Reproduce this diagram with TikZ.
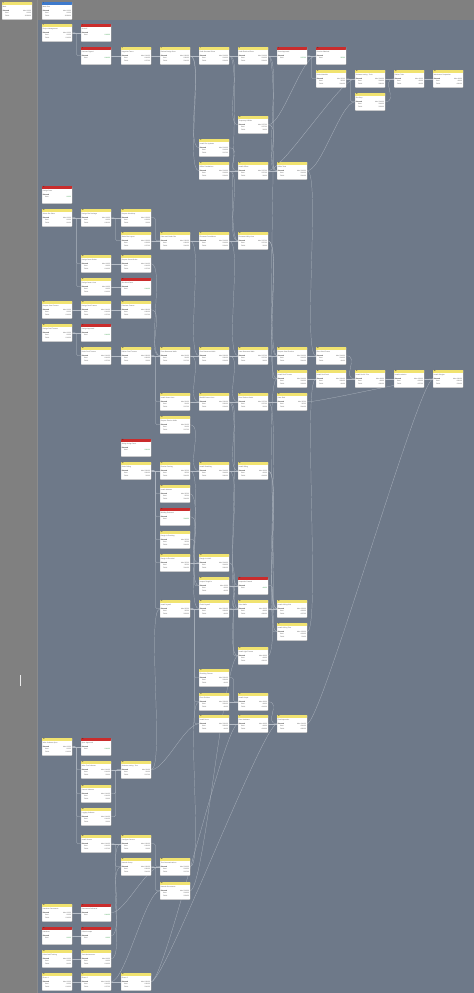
\documentclass[tikz,border=0pt]{standalone}
\usepackage{fontspec}
\setmainfont{Liberation Sans}
\usepackage{tikz}
\usetikzlibrary{shadows}
\definecolor{panelgray}{RGB}{128,128,128}
\definecolor{canvasblue}{RGB}{110,121,137}
\definecolor{linkgray}{RGB}{182,189,199}
\definecolor{headyellow}{RGB}{241,227,112}
\definecolor{headred}{RGB}{202,44,44}
\definecolor{headblue}{RGB}{62,122,204}
\definecolor{dategreen}{RGB}{40,150,60}
\pgfdeclarelayer{bottom}
\pgfdeclarelayer{links}
\pgfsetlayers{bottom,links,main}

\tikzset{
  cardbox/.style={anchor=north west, draw=black!40, line width=0.2pt, fill=white,
    minimum width=30mm, minimum height=17.5mm, inner sep=0pt, rounded corners=0.5mm,
    drop shadow={shadow xshift=0.5mm, shadow yshift=-0.6mm, opacity=0.45}},
  cardtxt/.style={anchor=west, inner sep=0pt, text=black!65, font=\fontsize{4.6}{5}\selectfont},
  cardbold/.style={cardtxt, text=black!85, font=\fontsize{4.6}{5}\selectfont\bfseries},
  cardid/.style={cardtxt, text=black!80, font=\fontsize{4.4}{5}\selectfont\bfseries},
  carddate/.style={anchor=east, inner sep=0pt, text=black!65, font=\fontsize{4.6}{5}\selectfont},
  link/.style={draw=linkgray, line width=0.6pt, rounded corners=1.5mm}
}

% card with a coloured head: name, x, y, colour, id, title
\newcommand{\cardhead}[6]{%
  \node[cardbox] (#1) at (#2,#3) {};
  \fill[#4] ([yshift=-2.8mm]#1.north west) [rounded corners=0.5mm] |- (#1.north east)
    -- ([yshift=-2.8mm]#1.north east) [sharp corners] -- cycle;
  \node[cardid] at ([shift={(0.8,1.45)}]#1.north west) {#5};
  \node[cardtxt] at ([shift={(0.8,5)}]#1.north west) {#6};
}
% task: name, x, y, id, title, start, finish
\newcommand{\taskcard}[7]{%
  \cardhead{#1}{#2}{#3}{headyellow}{#4}{#5}
  \node[cardbold] at ([shift={(0.8,8.7)}]#1.north west) {Planned};
  \node[carddate] at ([shift={(29.2,8.7)}]#1.north west) {Mon #6};
  \node[cardtxt] at ([shift={(3,11.4)}]#1.north west) {Start};
  \node[carddate] at ([shift={(29.2,11.4)}]#1.north west) {#6};
  \node[cardtxt] at ([shift={(3,14.1)}]#1.north west) {Finish};
  \node[carddate] at ([shift={(29.2,14.1)}]#1.north west) {#7};
}
% milestone: name, x, y, id, title, date
\newcommand{\milecard}[6]{%
  \cardhead{#1}{#2}{#3}{headred}{#4}{#5}
  \node[cardbold] at ([shift={(0.8,8.7)}]#1.north west) {Planned};
  \node[cardtxt] at ([shift={(3,11.4)}]#1.north west) {Start};
  \node[carddate, text=dategreen] at ([shift={(29.2,11.4)}]#1.north west) {#6};
}
\newcommand{\hlink}[2]{\draw[link] (#1.east) -- (#2.west);}
\newcommand{\blink}[2]{\draw[link] (#1.east) -- ++(4.5,0) |- (#2.west);}
\newcommand{\clink}[2]{\draw[link] (#1.east) .. controls +(14,0) and +(-14,0) .. (#2.west);}

\begin{document}
\begin{tikzpicture}[x=1mm,y=-1mm]
\useasboundingbox (0,0) rectangle (474,993);
\begin{pgfonlayer}{bottom}
\fill[panelgray] (0,0) rectangle (474,993);
\fill[canvasblue] (37,20) rectangle (474,993);
\draw[black!45, line width=0.6pt] (37,0) -- (37,993);
\draw[white!85!gray, line width=1.2pt] (20,675) -- (20,686);
\end{pgfonlayer}

% summary cards
\taskcard{t0}{2}{2}{0}{Main}{1/2/12}{12/28/12}
\cardhead{t1}{42}{2}{headblue}{1}{Main Plan}
\node[cardbold] at ([shift={(0.8,8.7)}]t1.north west) {Planned};
\node[carddate] at ([shift={(29.2,8.7)}]t1.north west) {Mon 1/2/12};
\node[cardtxt] at ([shift={(3,11.4)}]t1.north west) {Start};
\node[carddate] at ([shift={(29.2,11.4)}]t1.north west) {1/2/12};
\node[cardtxt] at ([shift={(3,14.1)}]t1.north west) {Finish};
\node[carddate] at ([shift={(29.2,14.1)}]t1.north west) {12/28/12};

% design and permits
\taskcard{t2}{42}{24}{2}{Project Management}{1/2/12}{1/13/12}
\milecard{t3}{81}{24}{3}{Kick-off}{1/13/12}
\milecard{t4}{81}{47}{4}{Contract Signed}{1/16/12}
\taskcard{t5}{121}{47}{5}{Negotiate Terms}{1/16/12}{1/27/12}
\taskcard{t6}{160}{47}{6}{Review Design Docs}{1/30/12}{2/10/12}
\taskcard{t7}{199}{47}{7}{Draft Structural Plans}{2/13/12}{2/24/12}
\taskcard{t8}{238}{47}{8}{Draft Electrical Plans}{2/13/12}{2/24/12}
\milecard{t9}{277}{47}{9}{Plans Approved}{2/27/12}
\milecard{t10}{316}{47}{10}{Permits Obtained}{3/5/12}
\taskcard{t11}{316}{70}{11}{Order Materials}{3/5/12}{3/16/12}
\taskcard{t12}{355}{70}{12}{Software testing - Tools}{3/19/12}{3/30/12}
\taskcard{t13}{394}{70}{13}{Deliver Tools}{4/2/12}{4/6/12}
\taskcard{t14}{433}{70}{14}{Warehouse Preparation}{4/9/12}{4/20/12}
\taskcard{t15}{355}{93}{15}{Site Prep}{3/19/12}{3/23/12}
\taskcard{t16}{238}{116}{16}{Temporary Utilities}{2/27/12}{3/9/12}
\taskcard{t17}{199}{139}{17}{Install Fire Hydrants}{2/13/12}{2/17/12}
\taskcard{t18}{199}{162}{18}{Office Foundations}{2/13/12}{2/24/12}
\taskcard{t19}{238}{162}{19}{Install Offices}{2/27/12}{3/9/12}
\taskcard{t20}{277}{162}{20}{Office Tests}{3/12/12}{3/16/12}

% site work
\milecard{t21}{42}{186}{21}{Design Done}{1/2/12}
\taskcard{t22}{42}{209}{22}{Select Site Plans}{1/2/12}{1/6/12}
\taskcard{t23}{81}{209}{23}{Design Site Drainage}{1/9/12}{1/20/12}
\taskcard{t24}{121}{209}{24}{Prepare Workshop}{1/23/12}{2/3/12}
\taskcard{t25}{121}{232}{25}{Stake Site Layout}{1/23/12}{1/27/12}
\taskcard{t26}{160}{232}{26}{Clear and Grade Site}{1/30/12}{2/10/12}
\taskcard{t27}{199}{232}{27}{Excavate Foundations}{2/13/12}{2/24/12}
\taskcard{t28}{238}{232}{28}{Excavate Utility Lines}{2/27/12}{3/2/12}
\taskcard{t29}{81}{255}{29}{Design Storm Drains}{1/9/12}{1/13/12}
\taskcard{t30}{121}{255}{30}{Prepare Storm Drains}{1/16/12}{1/27/12}
\taskcard{t31}{81}{278}{31}{Design Sewer Lines}{1/9/12}{1/13/12}
\milecard{t32}{121}{278}{32}{Site Work Done}{1/16/12}
\taskcard{t33}{42}{301}{33}{Prepare Steel Frames}{1/2/12}{1/13/12}
\taskcard{t34}{81}{301}{34}{Design Steel Frames}{1/16/12}{1/27/12}
\taskcard{t35}{121}{301}{35}{Fabricate Frames}{1/30/12}{2/17/12}
\taskcard{t36}{42}{324}{36}{Design Roof Trusses}{1/2/12}{1/13/12}
\milecard{t37}{81}{324}{37}{Design Approved}{1/16/12}

% structure
\taskcard{t38}{81}{347}{38}{Order Roof Trusses}{1/16/12}{1/27/12}
\taskcard{t39}{121}{347}{39}{Deliver Roof Trusses}{1/30/12}{2/3/12}
\taskcard{t40}{160}{347}{40}{Form Basement Walls}{2/6/12}{2/17/12}
\taskcard{t41}{199}{347}{41}{Pour Basement Walls}{2/20/12}{2/24/12}
\taskcard{t42}{238}{347}{42}{Cure Basement Walls}{2/27/12}{3/9/12}
\taskcard{t43}{277}{347}{43}{Prepare Steel Erection}{3/12/12}{3/16/12}
\taskcard{t44}{316}{347}{44}{Erect Steel Frame}{3/19/12}{4/6/12}
\taskcard{t45}{277}{370}{45}{Install Roof Trusses}{3/12/12}{3/23/12}
\taskcard{t46}{316}{370}{46}{Install Roof Deck}{3/26/12}{4/6/12}
\taskcard{t47}{355}{370}{47}{Install Roof \& Trim}{4/9/12}{4/20/12}
\taskcard{t48}{394}{370}{48}{Install Insulation}{4/23/12}{4/27/12}
\taskcard{t49}{433}{370}{49}{Install Shingles}{4/30/12}{5/11/12}
\taskcard{t50}{160}{393}{50}{Install Sewer Lines}{2/6/12}{2/17/12}
\taskcard{t51}{199}{393}{51}{Backfill Sewer Lines}{2/20/12}{2/24/12}
\taskcard{t52}{238}{393}{52}{Pour Slab on Grade}{2/27/12}{3/2/12}
\taskcard{t53}{277}{393}{53}{Cure Slab}{3/5/12}{3/16/12}
\taskcard{t54}{160}{416}{54}{Prepare Exterior Walls}{2/6/12}{2/17/12}

% enclosure and interiors
\milecard{t55}{121}{439}{55}{Siding Design Done}{2/20/12}
\taskcard{t56}{121}{462}{56}{Order Siding}{2/20/12}{3/2/12}
\taskcard{t57}{160}{462}{57}{Exterior Framing}{3/5/12}{3/16/12}
\taskcard{t58}{199}{462}{58}{Install Sheathing}{3/19/12}{3/30/12}
\taskcard{t59}{238}{462}{59}{Install Siding}{4/2/12}{4/13/12}
\taskcard{t60}{160}{485}{60}{Install Windows}{3/5/12}{3/16/12}
\milecard{t61}{160}{508}{61}{Building Enclosed}{3/19/12}
\taskcard{t62}{160}{531}{62}{Rough-in Plumbing}{3/5/12}{3/16/12}
\taskcard{t63}{160}{554}{63}{Rough-in Electrical}{3/5/12}{3/16/12}
\taskcard{t64}{199}{554}{64}{Rough-in HVAC}{3/19/12}{3/30/12}
\taskcard{t65}{199}{577}{65}{Inspect Rough-in}{4/2/12}{4/6/12}
\milecard{t66}{238}{577}{66}{Inspection Passed}{4/9/12}
\taskcard{t67}{160}{600}{67}{Install Drywall}{3/5/12}{3/23/12}
\taskcard{t68}{199}{600}{68}{Finish Drywall}{3/26/12}{4/6/12}
\taskcard{t69}{238}{600}{69}{Paint Walls}{4/9/12}{4/20/12}
\taskcard{t70}{277}{600}{70}{Install Ceiling Grid}{4/23/12}{4/27/12}
\taskcard{t71}{277}{623}{71}{Install Ceiling Tiles}{4/23/12}{5/4/12}
\taskcard{t72}{238}{647}{72}{Install Light Fixtures}{4/9/12}{4/20/12}
\taskcard{t73}{199}{669}{73}{Plumbing Fixtures}{3/26/12}{4/6/12}
\taskcard{t74}{199}{693}{74}{Floor Finishes}{3/26/12}{4/6/12}
\taskcard{t75}{238}{693}{75}{Install Carpet}{4/9/12}{4/13/12}
\taskcard{t76}{199}{715}{76}{Install Doors}{3/26/12}{4/6/12}
\taskcard{t77}{238}{715}{77}{Door Hardware}{4/9/12}{4/13/12}
\taskcard{t78}{277}{715}{78}{Final Inspection}{4/16/12}{4/20/12}

% software and handover
\taskcard{t79}{42}{738}{79}{Write Software Spec}{1/2/12}{1/13/12}
\milecard{t80}{81}{738}{80}{Spec Approved}{1/16/12}
\taskcard{t81}{81}{761}{81}{Write Test Software}{1/16/12}{2/3/12}
\taskcard{t82}{121}{761}{82}{Software testing - Test}{2/6/12}{2/17/12}
\taskcard{t83}{81}{785}{83}{Control Software}{1/16/12}{2/3/12}
\taskcard{t84}{81}{808}{84}{Logging Software}{1/16/12}{2/3/12}
\taskcard{t85}{81}{835}{85}{Install Servers}{1/16/12}{1/27/12}
\taskcard{t86}{121}{835}{86}{Configure Servers}{1/30/12}{2/3/12}
\taskcard{t87}{121}{858}{87}{Network Setup}{1/30/12}{2/10/12}
\taskcard{t88}{160}{858}{88}{Test Communications}{2/13/12}{2/17/12}
\taskcard{t89}{160}{882}{89}{Network Documents}{2/13/12}{2/24/12}
\taskcard{t90}{42}{904}{90}{Handover Documents}{1/2/12}{1/13/12}
\milecard{t91}{81}{904}{91}{Documents Delivered}{1/16/12}
\milecard{t92}{42}{927}{92}{Handover}{1/2/12}
\milecard{t93}{81}{927}{93}{Client Accepts}{1/3/12}
\taskcard{t94}{42}{950}{94}{Client Staff Training}{1/2/12}{1/6/12}
\taskcard{t95}{81}{950}{95}{Train Maintenance}{1/9/12}{1/13/12}
\taskcard{t96}{42}{973}{96}{Phase 1}{1/2/12}{1/13/12}
\taskcard{t97}{81}{973}{97}{Phase 2}{1/16/12}{1/27/12}
\taskcard{t98}{121}{973}{98}{Phase 3}{1/30/12}{2/10/12}

\begin{pgfonlayer}{links}
% links along rows
\hlink{t2}{t3} \hlink{t4}{t5} \hlink{t5}{t6} \hlink{t6}{t7} \hlink{t7}{t8}
\hlink{t8}{t9} \hlink{t9}{t10} \hlink{t11}{t12} \hlink{t12}{t13} \hlink{t13}{t14}
\hlink{t18}{t19} \hlink{t19}{t20} \hlink{t22}{t23} \hlink{t23}{t24} \hlink{t25}{t26}
\hlink{t26}{t27} \hlink{t27}{t28} \hlink{t29}{t30} \hlink{t31}{t32} \hlink{t33}{t34}
\hlink{t34}{t35} \hlink{t36}{t37} \hlink{t38}{t39} \hlink{t39}{t40} \hlink{t40}{t41}
\hlink{t41}{t42} \hlink{t42}{t43} \hlink{t43}{t44} \hlink{t45}{t46} \hlink{t46}{t47}
\hlink{t47}{t48} \hlink{t48}{t49} \hlink{t50}{t51} \hlink{t51}{t52} \hlink{t52}{t53}
\hlink{t56}{t57} \hlink{t57}{t58} \hlink{t58}{t59} \hlink{t63}{t64} \hlink{t65}{t66}
\hlink{t67}{t68} \hlink{t68}{t69} \hlink{t69}{t70} \hlink{t74}{t75} \hlink{t76}{t77}
\hlink{t77}{t78} \hlink{t79}{t80} \hlink{t81}{t82} \hlink{t85}{t86} \hlink{t87}{t88}
\hlink{t90}{t91} \hlink{t92}{t93} \hlink{t94}{t95} \hlink{t96}{t97} \hlink{t97}{t98}

% branches to the next column
\blink{t2}{t4} \blink{t9}{t11} \blink{t11}{t15} \blink{t22}{t29} \blink{t22}{t31}
\blink{t23}{t25} \blink{t36}{t38} \blink{t39}{t50} \blink{t39}{t54} \blink{t42}{t45}
\blink{t56}{t60} \blink{t56}{t61} \blink{t56}{t62} \blink{t56}{t63} \blink{t56}{t67}
\blink{t62}{t65} \blink{t66}{t70} \blink{t69}{t71} \blink{t68}{t72} \blink{t67}{t73}
\blink{t67}{t74} \blink{t67}{t76} \blink{t73}{t75} \blink{t79}{t81} \blink{t79}{t83}
\blink{t79}{t84} \blink{t79}{t85} \blink{t83}{t82} \blink{t84}{t82} \blink{t85}{t87}
\blink{t87}{t89} \blink{t86}{t88} \blink{t24}{t26}

% long links
\clink{t6}{t17} \clink{t6}{t18} \clink{t7}{t16} \clink{t8}{t20} \clink{t16}{t10}
\clink{t17}{t19} \clink{t20}{t15} \clink{t15}{t13} \clink{t19}{t12} \clink{t7}{t28}
\clink{t16}{t20} \clink{t8}{t43} \clink{t20}{t44} \clink{t28}{t45}
\clink{t26}{t41} \clink{t27}{t42} \clink{t28}{t43} \clink{t30}{t40} \clink{t18}{t28}
\clink{t35}{t40} \clink{t40}{t51} \clink{t41}{t52} \clink{t53}{t49} \clink{t44}{t47}
\clink{t54}{t58} \clink{t51}{t59} \clink{t59}{t70} \clink{t58}{t66} \clink{t57}{t65}
\clink{t61}{t64} \clink{t60}{t68} \clink{t51}{t69} \clink{t71}{t46} \clink{t72}{t45}
\clink{t52}{t70} \clink{t59}{t71} \clink{t64}{t72} \clink{t65}{t69}
\clink{t75}{t78} \clink{t82}{t67} \clink{t82}{t76} \clink{t88}{t74} \clink{t89}{t72}
\clink{t95}{t87} \clink{t97}{t89} \clink{t98}{t77} \clink{t98}{t78} \clink{t93}{t86}
\clink{t91}{t88} \clink{t78}{t49}
\end{pgfonlayer}
\end{tikzpicture}
\end{document}
